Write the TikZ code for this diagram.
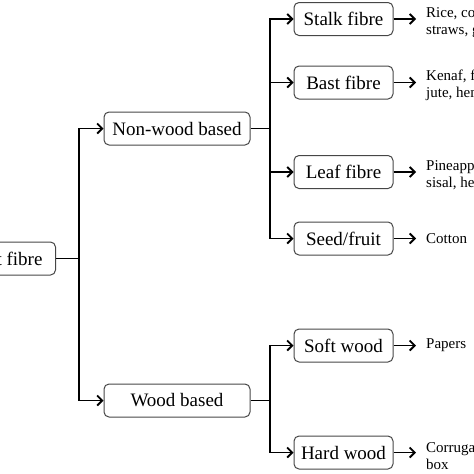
\documentclass[tikz,border=0pt]{standalone}
\usepackage{fontspec}
\setmainfont{Liberation Serif}
\usepackage{tikz}
\usetikzlibrary{positioning,arrows.meta}
\definecolor{myBoxCol}{RGB}{70, 70, 70}
\tikzset{myBox/.style={draw=myBoxCol, line width=1pt, rounded corners=5pt, minimum width=99pt, minimum height=33pt, inner sep=0pt, font=\fontsize{19}{22}\selectfont}}
\tikzset{myWideBox/.style={myBox, minimum width=146pt}}
\tikzset{myUse/.style={anchor=west, inner sep=0pt, align=left, font=\fontsize{15}{17}\selectfont}}
\tikzset{myLine/.style={line width=1.8pt, color=black}}
\tikzset{myArrow/.style={myLine, -{Straight Barb[length=5pt, width=10pt, line width=1.8pt]}}}

\begin{document}
\begin{tikzpicture}[x=1pt,y=-1pt]
	\useasboundingbox (0,0) rectangle (474,474);
	\clip (0,0) rectangle (474,474);
	%\draw[help lines, step=10pt](0,0) grid(474,474);

	% boxes
	\node[myBox, anchor=east, inner xsep=13pt, minimum width=0pt] (root) at (56,258.5) {Plant fibre};
	\node[myWideBox] (nonwood) at (177,128.5) {Non-wood based};
	\node[myWideBox] (wood) at (177,400.5) {Wood based};
	\node[myBox] (stalk) at (343.5,19) {Stalk fibre};
	\node[myBox] (bast) at (343.5,82.5) {Bast fibre};
	\node[myBox] (leaf) at (343.5,172) {Leaf fibre};
	\node[myBox] (seed) at (343.5,238.5) {Seed/fruit};
	\node[myBox] (soft) at (343.5,345.5) {Soft wood};
	\node[myBox] (hard) at (343.5,452.5) {Hard wood};

	% uses
	\node[myUse] (stalkUse) at (426,22) {Rice, corn, wheat\\straws, grass};
	\node[myUse] (bastUse) at (426,85) {Kenaf, flax,\\jute, hemp};
	\node[myUse] (leafUse) at (426,175) {Pineapple,\\sisal, henequen};
	\node[myUse] (seedUse) at (426,238.5) {Cotton};
	\node[myUse] (softUse) at (426,345.5) {Papers};
	\node[myUse] (hardUse) at (426,456) {Corrugated\\box};

	% branches
	\coordinate (splitA) at (79,258.5);
	\coordinate (splitB) at (270,128.5);
	\coordinate (splitC) at (270,400.5);
	\draw[myLine](root.east) -- (splitA);
	\draw[myArrow](splitA) |- (nonwood.west);
	\draw[myArrow](splitA) |- (wood.west);
	\draw[myLine](nonwood.east) -- (splitB);
	\draw[myArrow](splitB) |- (stalk.west);
	\draw[myArrow](splitB) |- (bast.west);
	\draw[myArrow](splitB) |- (leaf.west);
	\draw[myArrow](splitB) |- (seed.west);
	\draw[myLine](wood.east) -- (splitC);
	\draw[myArrow](splitC) |- (soft.west);
	\draw[myArrow](splitC) |- (hard.west);

	% to uses
	\foreach \n in {stalk, bast, leaf, seed, soft, hard}{
		\draw[myArrow](\n.east) -- ([xshift=-10pt]\n.east -| \n Use.west);
	}
\end{tikzpicture}
\end{document}
